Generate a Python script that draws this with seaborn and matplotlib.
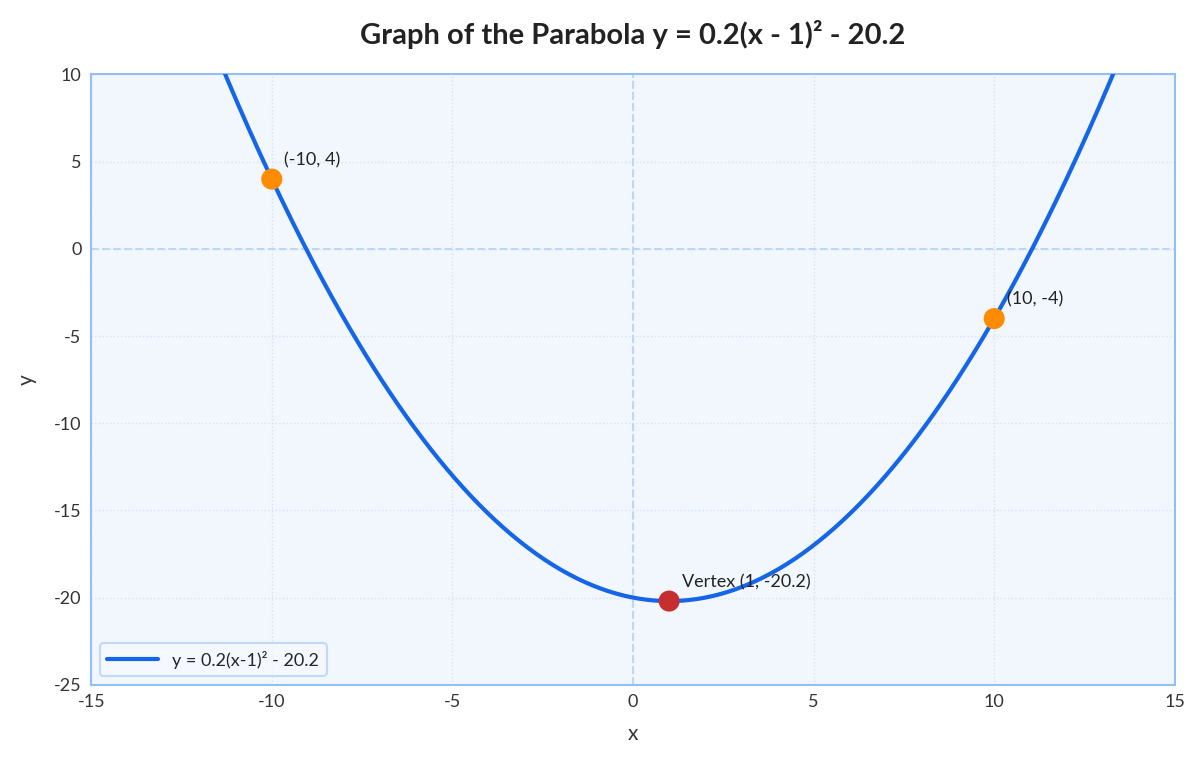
import matplotlib
matplotlib.use("Agg")
import matplotlib.pyplot as plt
import numpy as np
import pandas as pd
import seaborn as sns

# 포물선 계수 y = a(x - h)^2 + k
a = 0.2
h = 1
k = -20.2
x_start, x_end = -15, 15

# 표시할 점들
point_x = [-10, 10]
point_y = [4, -4]
point_labels = ["(-10, 4)", "(10, -4)"]
vertex_label = "Vertex (1, -20.2)"

x_ticks = [-15, -10, -5, 0, 5, 10, 15]
y_ticks = [-25, -20, -15, -10, -5, 0, 5, 10]

xs = np.linspace(x_start, x_end, 400)
curve_df = pd.DataFrame({"x": xs, "y": a * (xs - h) ** 2 + k})
points_df = pd.DataFrame({"x": point_x, "y": point_y})

sns.set_theme(style="white")
plt.rcParams["font.family"] = ["Lato", "DejaVu Sans"]
plt.rcParams["axes.unicode_minus"] = False

edge_blue = "#93bff7"
fig, ax = plt.subplots(figsize=(12, 7.6), dpi=100)
ax.set_facecolor("#f2f7fe")

# 보조 격자 & x=0, y=0 점선
ax.grid(True, linestyle=":", color="#d3e2f5", linewidth=1)
ax.axhline(0, color="#bcd6f7", linestyle="--", linewidth=1.5, zorder=1)
ax.axvline(0, color="#bcd6f7", linestyle="--", linewidth=1.5, zorder=1)

sns.lineplot(data=curve_df, x="x", y="y", ax=ax, color="#1565e8", linewidth=3,
             label="y = 0.2(x-1)² - 20.2", zorder=3)
sns.scatterplot(data=points_df, x="x", y="y", ax=ax, color="#ff8c00", s=230,
                edgecolor="none", zorder=4)
ax.scatter([h], [k], color="#c62f2f", s=230, edgecolor="none", zorder=4)

for px, py, lab in zip(point_x, point_y, point_labels):
    ax.annotate(lab, (px, py), xytext=(9, 10), textcoords="offset points",
                fontsize=13, color="#222222", zorder=5)
ax.annotate(vertex_label, (h, k), xytext=(9, 10), textcoords="offset points",
            fontsize=13, color="#222222", zorder=5)

ax.set_xlim(x_start, x_end)
ax.set_ylim(-25, 10)
ax.set_xticks(x_ticks)
ax.set_yticks(y_ticks)
ax.tick_params(length=0, labelsize=13, colors="#333333", pad=7)
ax.set_xlabel("x", fontsize=15, color="#333333", labelpad=10)
ax.set_ylabel("y", fontsize=15, color="#333333", labelpad=12)
ax.set_title("Graph of the Parabola y = 0.2(x - 1)² - 20.2", fontsize=21,
             fontweight="bold", color="#222222", pad=22)

for sp in ax.spines.values():
    sp.set_color(edge_blue)
    sp.set_linewidth(1.5)

leg = ax.legend(loc="lower left", fontsize=13, frameon=True, handlelength=2.8)
leg.get_frame().set_edgecolor("#b5d2f8")
leg.get_frame().set_linewidth(1.5)
leg.get_frame().set_facecolor("#f6f9fe")

plt.subplots_adjust(left=0.076, right=0.979, top=0.902, bottom=0.099)
plt.savefig("out.png", dpi=100)
